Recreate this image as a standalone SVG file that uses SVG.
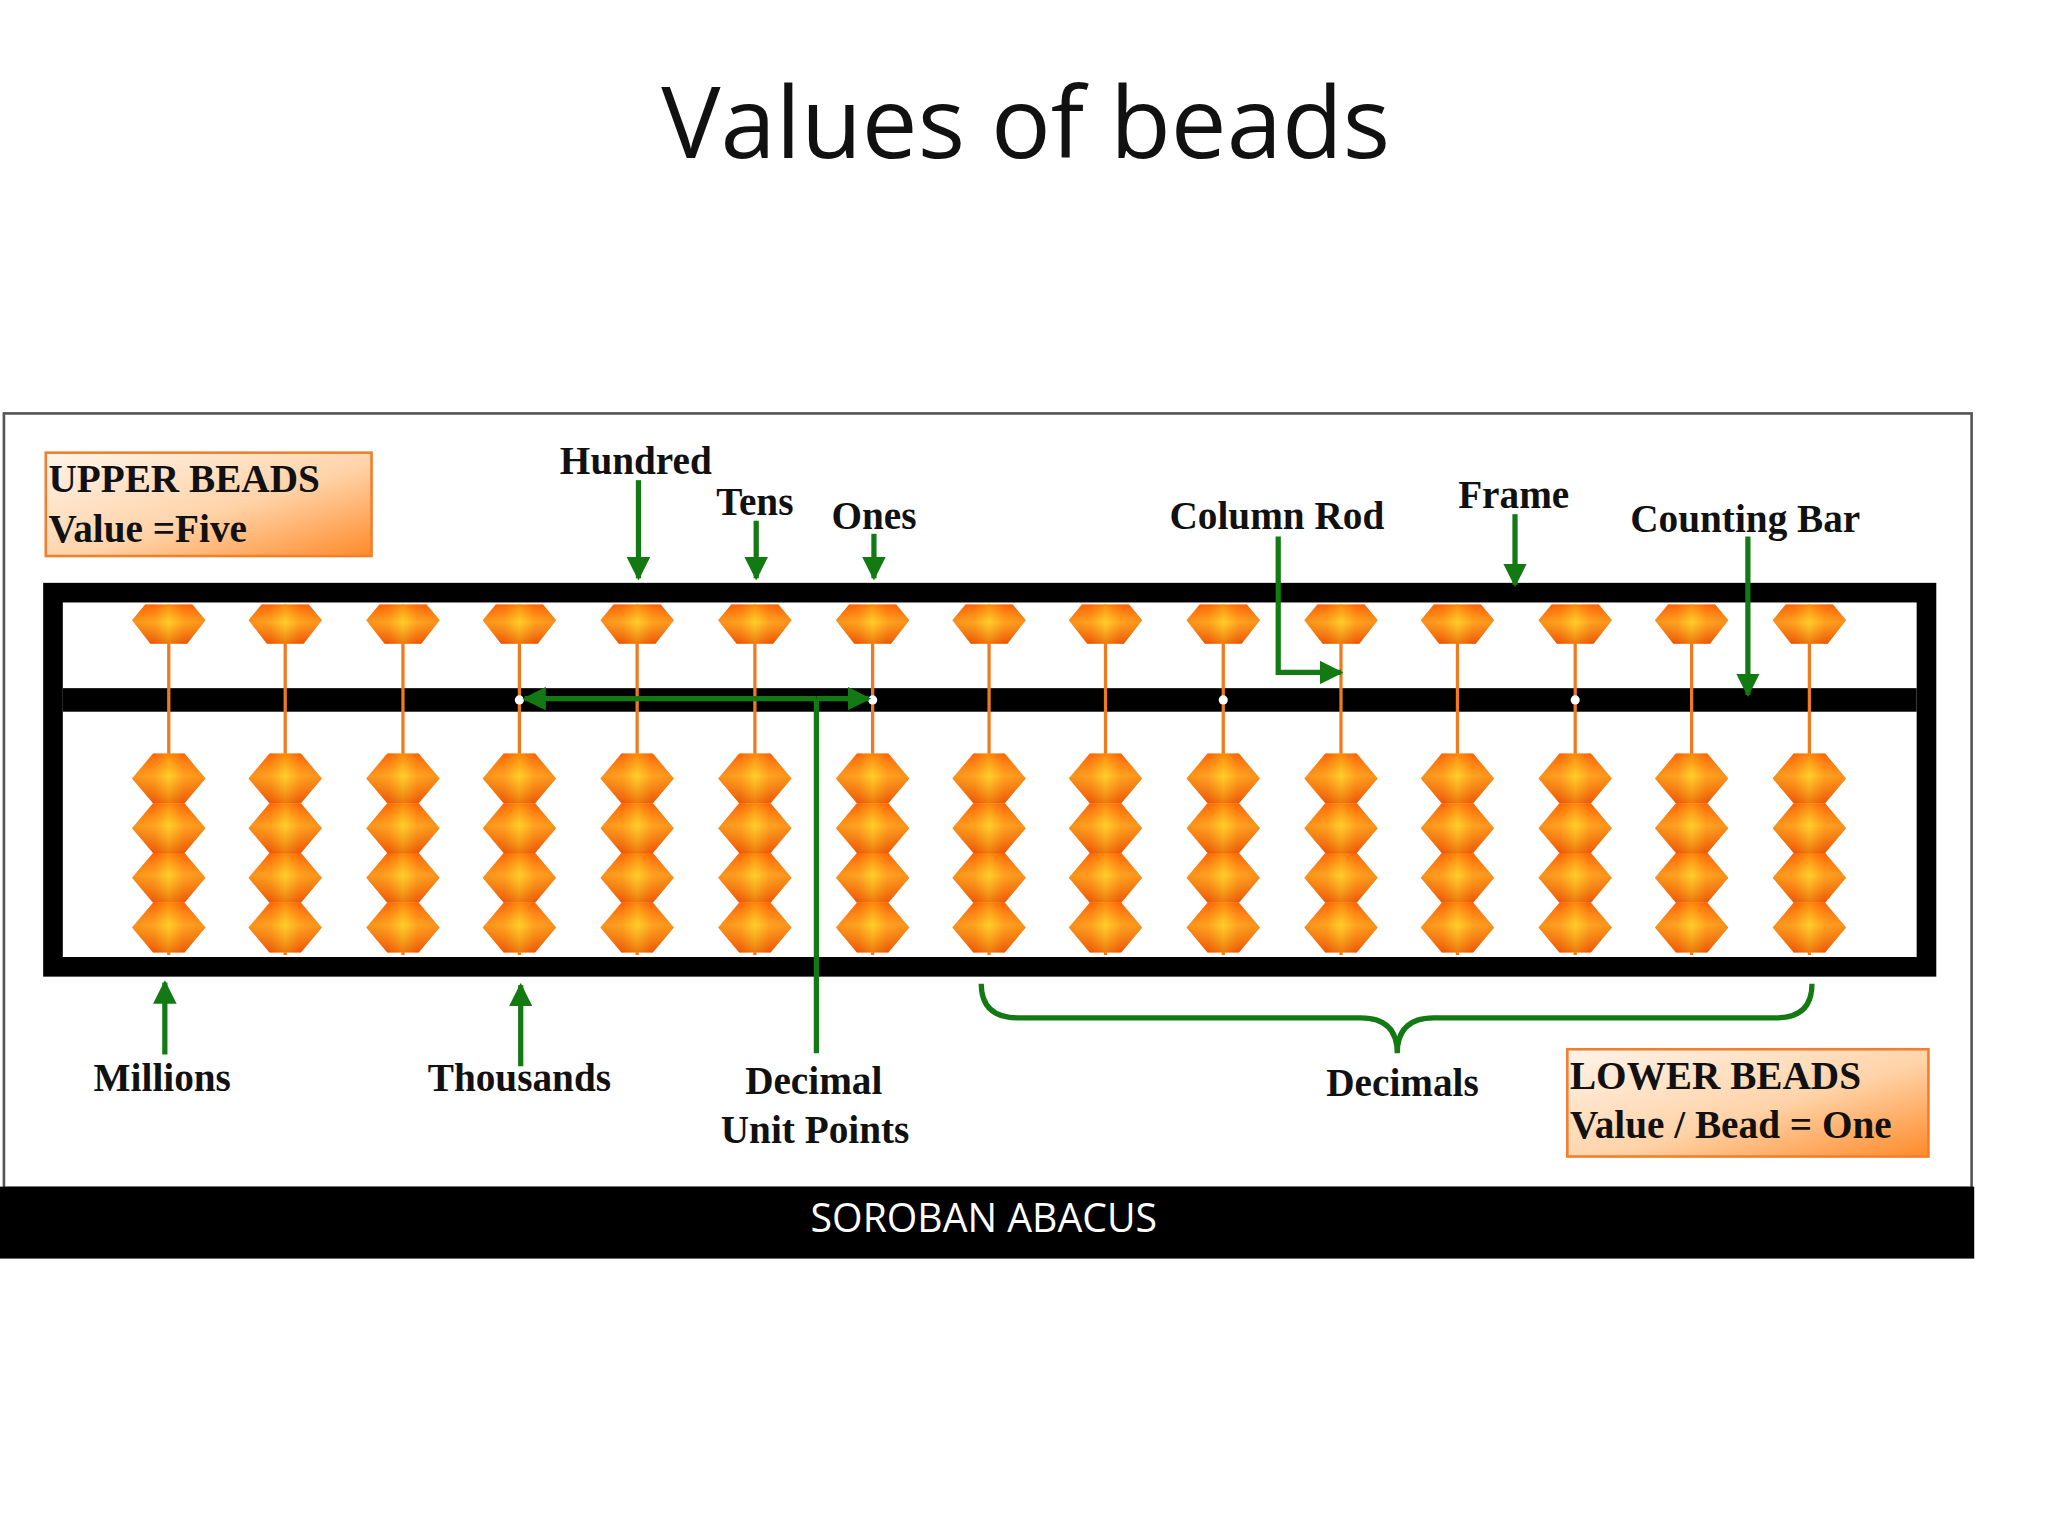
<svg xmlns="http://www.w3.org/2000/svg" width="2048" height="1536" viewBox="0 0 2048 1536">
<defs>
<linearGradient id="bg" x1="0" y1="0" x2="1" y2="0">
<stop offset="0" stop-color="#f25a00"/><stop offset="0.3" stop-color="#ff7a10"/><stop offset="0.5" stop-color="#ffd020"/><stop offset="0.7" stop-color="#ff7a10"/><stop offset="1" stop-color="#f25a00"/>
</linearGradient>
<linearGradient id="bv" x1="0" y1="0" x2="0" y2="1">
<stop offset="0" stop-color="#ff5500" stop-opacity="0.6"/><stop offset="0.45" stop-color="#ffcc33" stop-opacity="0.5"/><stop offset="1" stop-color="#e04000" stop-opacity="0.6"/>
</linearGradient>
<linearGradient id="box" x1="0" y1="0" x2="1" y2="1">
<stop offset="0" stop-color="#fff4ea"/><stop offset="0.55" stop-color="#ffd3a8"/><stop offset="1" stop-color="#ff8a2a"/>
</linearGradient>
<g id="ub"><polygon points="-28,-3 -18,-15 18,-15 28,-3 14,15 -14,15" fill="url(#bg)"/><polygon points="-28,-3 -18,-15 18,-15 28,-3 14,15 -14,15" fill="url(#bv)"/></g>
<g id="lb"><polygon points="-28,0 -12,-19 12,-19 28,0 12,19 -12,19" fill="url(#bg)"/><polygon points="-28,0 -12,-19 12,-19 28,0 12,19 -12,19" fill="url(#bv)"/></g>
<g id="col"><use href="#lb" x="0" y="595"/><use href="#lb" x="0" y="633"/><use href="#lb" x="0" y="671"/><use href="#lb" x="0" y="709"/></g>
<marker id="ah" viewBox="0 0 10 10" refX="9" refY="5" markerWidth="4.5" markerHeight="4.5" orient="auto"><path d="M0,0 L10,5 L0,10 z" fill="#137a13"/></marker>
</defs>
<style>
.lbl{font-family:"Liberation Serif",serif;font-weight:bold;font-size:30px;fill:#111;text-anchor:middle}
.box{font-family:"Liberation Serif",serif;font-weight:bold;font-size:30px;fill:#111}
.g{stroke:#137a13;stroke-width:4;fill:none}
.rod{stroke:#f07a20;stroke-width:2.5}
</style>
<rect width="2048" height="1536" fill="#fff"/>
<g transform="scale(1.3083)">
<text x="784" y="121" font-family="Open Sans,Liberation Sans,sans-serif" font-size="76" text-anchor="middle" fill="#111">Values of beads</text>
<rect x="3" y="316" width="1504" height="592" fill="#fff" stroke="#555" stroke-width="2"/>
<g id="footer"><rect x="0" y="907" width="1509" height="55" fill="#000"/>
<text x="752" y="942" font-family="Open Sans,Liberation Sans,sans-serif" font-size="30" fill="#fff" text-anchor="middle">SOROBAN ABACUS</text></g>
<g id="frame">
<rect x="40.5" y="453" width="1432" height="286" fill="#fff" stroke="#000" stroke-width="15"/>
<rect x="48" y="526" width="1417" height="18" fill="#000"/>
</g>
<g id="rods">
<g class="rod">
<line x1="129" y1="462" x2="129" y2="730"/><line x1="218" y1="462" x2="218" y2="730"/><line x1="308" y1="462" x2="308" y2="730"/><line x1="397" y1="462" x2="397" y2="730"/><line x1="487" y1="462" x2="487" y2="730"/><line x1="577" y1="462" x2="577" y2="730"/><line x1="667" y1="462" x2="667" y2="730"/><line x1="756" y1="462" x2="756" y2="730"/><line x1="845" y1="462" x2="845" y2="730"/><line x1="935" y1="462" x2="935" y2="730"/><line x1="1025" y1="462" x2="1025" y2="730"/><line x1="1114" y1="462" x2="1114" y2="730"/><line x1="1204" y1="462" x2="1204" y2="730"/><line x1="1293" y1="462" x2="1293" y2="730"/><line x1="1383" y1="462" x2="1383" y2="730"/>
</g>
</g>
<g id="beads">
<use href="#ub" x="129" y="477"/><use href="#ub" x="218" y="477"/><use href="#ub" x="308" y="477"/><use href="#ub" x="397" y="477"/><use href="#ub" x="487" y="477"/><use href="#ub" x="577" y="477"/><use href="#ub" x="667" y="477"/><use href="#ub" x="756" y="477"/><use href="#ub" x="845" y="477"/><use href="#ub" x="935" y="477"/><use href="#ub" x="1025" y="477"/><use href="#ub" x="1114" y="477"/><use href="#ub" x="1204" y="477"/><use href="#ub" x="1293" y="477"/><use href="#ub" x="1383" y="477"/>
<use href="#col" x="129"/><use href="#col" x="218"/><use href="#col" x="308"/><use href="#col" x="397"/><use href="#col" x="487"/><use href="#col" x="577"/><use href="#col" x="667"/><use href="#col" x="756"/><use href="#col" x="845"/><use href="#col" x="935"/><use href="#col" x="1025"/><use href="#col" x="1114"/><use href="#col" x="1204"/><use href="#col" x="1293"/><use href="#col" x="1383"/>
</g>
<g id="dots" fill="#fff"><circle cx="397" cy="535" r="3.5"/><circle cx="667" cy="535" r="3.5"/><circle cx="935" cy="535" r="3.5"/><circle cx="1204" cy="535" r="3.5"/></g>
<g id="upper-box"><rect x="35" y="346" width="249" height="79" fill="url(#box)" stroke="#f08030" stroke-width="2"/>
<text class="box" x="37" y="376">UPPER BEADS</text><text class="box" x="37" y="414" font-size="28">Value =Five</text></g>
<g id="lower-box"><rect x="1198" y="802" width="276" height="82" fill="url(#box)" stroke="#f08030" stroke-width="2"/>
<text class="box" x="1200" y="832">LOWER BEADS</text><text class="box" x="1200" y="870" font-size="29">Value / Bead = One</text></g>
<g id="labels">
<text class="lbl" x="486" y="362">Hundred</text>
<text class="lbl" x="577" y="394">Tens</text>
<text class="lbl" x="668" y="404">Ones</text>
<text class="lbl" x="976" y="404">Column Rod</text>
<text class="lbl" x="1157" y="388">Frame</text>
<text class="lbl" x="1334" y="407">Counting Bar</text>
<text class="lbl" x="124" y="834">Millions</text>
<text class="lbl" x="397" y="834">Thousands</text>
<text class="lbl" x="622" y="836">Decimal</text>
<text class="lbl" x="623" y="874">Unit Points</text>
<text class="lbl" x="1072" y="838">Decimals</text>
</g>
<g id="connectors" class="g">
<line x1="488" y1="367" x2="488" y2="442" marker-end="url(#ah)"/>
<line x1="578" y1="398" x2="578" y2="442" marker-end="url(#ah)"/>
<line x1="668" y1="408" x2="668" y2="442" marker-end="url(#ah)"/>
<polyline points="977,410 977,514 1025,514" marker-end="url(#ah)"/>
<line x1="1158" y1="393" x2="1158" y2="447" marker-end="url(#ah)"/>
<line x1="1336" y1="410" x2="1336" y2="531" marker-end="url(#ah)"/>
<line x1="126" y1="806" x2="126" y2="751" marker-end="url(#ah)"/>
<line x1="398" y1="815" x2="398" y2="753" marker-end="url(#ah)"/>
<line x1="624" y1="805" x2="624" y2="534"/>
<line x1="624" y1="534" x2="401" y2="534" marker-end="url(#ah)"/>
<line x1="624" y1="534" x2="664" y2="534" marker-end="url(#ah)"/>
<path d="M750,752 Q750,778 778,778 L1040,778 Q1068,778 1068,805 Q1068,778 1096,778 L1358,778 Q1385,778 1385,752"/>
</g>
</g>
</svg>
